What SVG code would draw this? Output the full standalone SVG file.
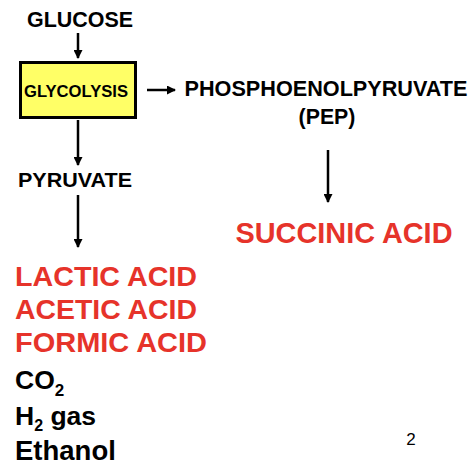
<svg xmlns="http://www.w3.org/2000/svg" width="474" height="467" viewBox="0 0 474 467">
<style>
text{font-family:"Liberation Sans",Arial,sans-serif;font-weight:bold;fill:#000}
.red{fill:#E6332A}
.ln{stroke:#000;stroke-width:2.5;fill:none}
</style>
<defs>
<marker id="ah" markerWidth="9" markerHeight="9" refX="8" refY="4.5" orient="auto" markerUnits="userSpaceOnUse">
<path d="M0,0 L9,4.5 L0,9 Z" fill="#000"/>
</marker>
</defs>
<rect width="474" height="467" fill="#fff"/>
<g id="glucose"><text x="80" y="27" font-size="21.3" text-anchor="middle" textLength="106" lengthAdjust="spacingAndGlyphs">GLUCOSE</text></g>
<g id="glycolysis">
<rect x="20.5" y="62.5" width="115" height="55" fill="#FFFF66" stroke="#000" stroke-width="3"/>
<text x="76" y="97" font-size="16.5" text-anchor="middle" textLength="104" lengthAdjust="spacingAndGlyphs">GLYCOLYSIS</text>
</g>
<g id="pep">
<text x="326" y="96" font-size="21.3" text-anchor="middle" textLength="283" lengthAdjust="spacingAndGlyphs">PHOSPHOENOLPYRUVATE</text>
<text x="327" y="124" font-size="21.3" text-anchor="middle">(PEP)</text>
</g>
<g id="pyruvate"><text x="75" y="187" font-size="21" text-anchor="middle" textLength="114" lengthAdjust="spacingAndGlyphs">PYRUVATE</text></g>
<g id="succinic"><text x="344" y="243" font-size="28.7" text-anchor="middle" class="red" textLength="217" lengthAdjust="spacingAndGlyphs">SUCCINIC ACID</text></g>
<g id="products">
<text x="15" y="286" font-size="28.5" class="red" textLength="182" lengthAdjust="spacingAndGlyphs">LACTIC ACID</text>
<text x="15" y="319" font-size="28.5" class="red" textLength="182" lengthAdjust="spacingAndGlyphs">ACETIC ACID</text>
<text x="15" y="352" font-size="28.5" class="red" textLength="192" lengthAdjust="spacingAndGlyphs">FORMIC ACID</text>
<text x="15" y="389" font-size="26.5">CO<tspan font-size="17" dy="7">2</tspan></text>
<text x="15" y="425" font-size="26.5">H<tspan font-size="16" dy="6">2</tspan><tspan dy="-6"> gas</tspan></text>
<text x="15" y="460" font-size="27.5">Ethanol</text>
</g>
<g id="page"><text x="411" y="445" font-size="17" text-anchor="middle" style="font-weight:normal">2</text></g>
<g id="connectors">
<line class="ln" x1="78" y1="33" x2="78" y2="58" marker-end="url(#ah)"/>
<line class="ln" x1="147" y1="90" x2="175" y2="90" marker-end="url(#ah)"/>
<line class="ln" x1="78" y1="120" x2="78" y2="165" marker-end="url(#ah)"/>
<line class="ln" x1="78" y1="195" x2="78" y2="247" marker-end="url(#ah)"/>
<line class="ln" x1="328" y1="150" x2="328" y2="202" marker-end="url(#ah)"/>
</g>
</svg>
